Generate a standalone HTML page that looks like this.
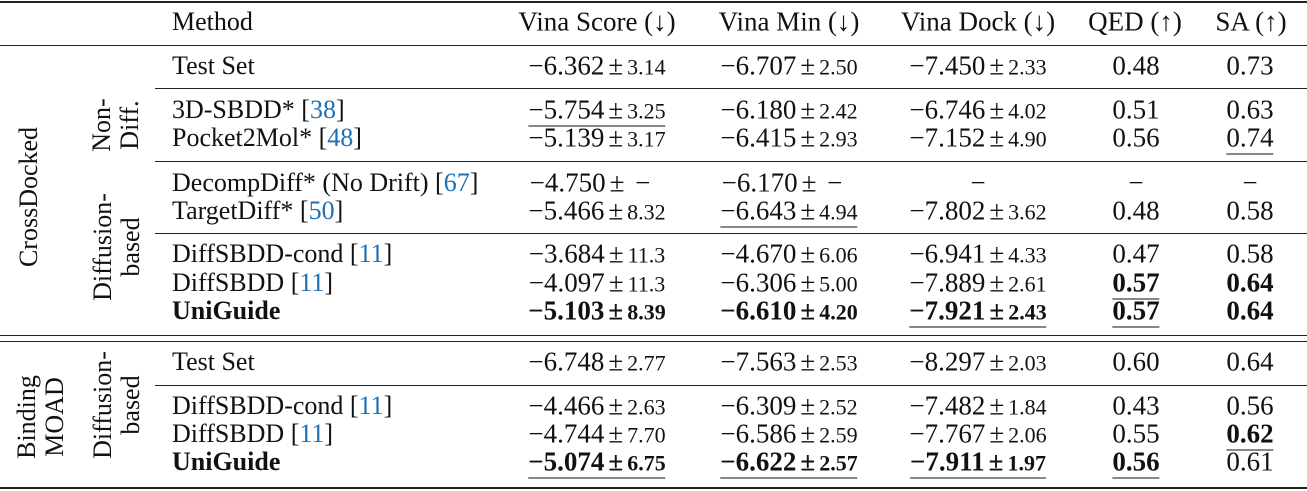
<!DOCTYPE html>
<html><head><meta charset="utf-8"><style>
body{margin:0;width:1307px;height:491px;background:#fff;position:relative;overflow:hidden;font-family:"Liberation Serif",serif;color:#111;font-size:26px}
.r{position:absolute;height:0;border-top:1px solid #222}
.t{position:absolute;white-space:nowrap;transform:translate(-50%,-50%);line-height:1;font-size:27px}
.h{position:absolute;white-space:nowrap;transform:translate(-50%,-50%);line-height:1;font-size:27px}
.l{position:absolute;white-space:nowrap;transform:translateY(-50%);line-height:1;left:172px}
s{text-decoration:none;font-size:22px}
i{font-style:normal;margin:0 4px}
.u{border-bottom:1.3px solid #111;padding-bottom:1px}
.c{color:#1f6fb5}
.v{position:absolute;white-space:nowrap;line-height:28px;text-align:center;transform:translate(-50%,-50%) rotate(-90deg)}
</style></head><body>
<div class="r" style="left:0;right:0;top:1px;border-top-width:2px"></div>
<div class="r" style="left:0;right:0;top:45px"></div>
<div class="r" style="left:155px;right:0;top:88px"></div>
<div class="r" style="left:155px;right:0;top:161px"></div>
<div class="r" style="left:155px;right:0;top:233px"></div>
<div class="r" style="left:0;right:0;top:335px"></div>
<div class="r" style="left:0;right:0;top:341px"></div>
<div class="r" style="left:155px;right:0;top:385px"></div>
<div class="r" style="left:0;right:0;top:487px;border-top-width:2px"></div>

<div class="v" style="left:29px;top:197px">CrossDocked</div>
<div class="v" style="left:116px;top:125px">Non-<br>Diff.</div>
<div class="v" style="left:117px;top:247px">Diffusion-<br>based</div>
<div class="v" style="left:41px;top:417px">Binding<br>MOAD</div>
<div class="v" style="left:117px;top:405px">Diffusion-<br>based</div>

<div class="l" style="top:22px">Method</div>
<div class="h" style="left:597px;top:22px">Vina Score (↓)</div>
<div class="h" style="left:789px;top:22px">Vina Min (↓)</div>
<div class="h" style="left:978px;top:22px">Vina Dock (↓)</div>
<div class="h" style="left:1135px;top:22px">QED (↑)</div>
<div class="h" style="left:1251px;top:22px">SA (↑)</div>

<div class="l" style="top:66px">Test Set</div>
<div class="t" style="left:597px;top:66px">−6.362<i>±</i><s>3.14</s></div>
<div class="t" style="left:789px;top:66px">−6.707<i>±</i><s>2.50</s></div>
<div class="t" style="left:978px;top:66px">−7.450<i>±</i><s>2.33</s></div>
<div class="t" style="left:1136px;top:66px">0.48</div>
<div class="t" style="left:1250px;top:66px">0.73</div>

<div class="l" style="top:110px">3D-SBDD* [<span class="c">38</span>]</div>
<div class="t" style="left:597px;top:110px"><span class="u">−5.754<i>±</i><s>3.25</s></span></div>
<div class="t" style="left:789px;top:110px">−6.180<i>±</i><s>2.42</s></div>
<div class="t" style="left:978px;top:110px">−6.746<i>±</i><s>4.02</s></div>
<div class="t" style="left:1136px;top:110px">0.51</div>
<div class="t" style="left:1250px;top:110px">0.63</div>

<div class="l" style="top:138px">Pocket2Mol* [<span class="c">48</span>]</div>
<div class="t" style="left:597px;top:138px">−5.139<i>±</i><s>3.17</s></div>
<div class="t" style="left:789px;top:138px">−6.415<i>±</i><s>2.93</s></div>
<div class="t" style="left:978px;top:138px">−7.152<i>±</i><s>4.90</s></div>
<div class="t" style="left:1136px;top:138px">0.56</div>
<div class="t" style="left:1250px;top:138px"><span class="u">0.74</span></div>

<div class="l" style="top:183px">DecompDiff* (No Drift) [<span class="c">67</span>]</div>
<div class="t" style="left:590px;top:183px">−4.750<i>±</i>&nbsp;−</div>
<div class="t" style="left:782px;top:183px">−6.170<i>±</i>&nbsp;−</div>
<div class="t" style="left:978px;top:183px">−</div>
<div class="t" style="left:1136px;top:183px">−</div>
<div class="t" style="left:1250px;top:183px">−</div>

<div class="l" style="top:211px">TargetDiff* [<span class="c">50</span>]</div>
<div class="t" style="left:597px;top:211px">−5.466<i>±</i><s>8.32</s></div>
<div class="t" style="left:789px;top:211px"><span class="u">−6.643<i>±</i><s>4.94</s></span></div>
<div class="t" style="left:978px;top:211px">−7.802<i>±</i><s>3.62</s></div>
<div class="t" style="left:1136px;top:211px">0.48</div>
<div class="t" style="left:1250px;top:211px">0.58</div>

<div class="l" style="top:254px">DiffSBDD-cond [<span class="c">11</span>]</div>
<div class="t" style="left:597px;top:254px">−3.684<i>±</i><s>11.3</s></div>
<div class="t" style="left:789px;top:254px">−4.670<i>±</i><s>6.06</s></div>
<div class="t" style="left:978px;top:254px">−6.941<i>±</i><s>4.33</s></div>
<div class="t" style="left:1136px;top:254px">0.47</div>
<div class="t" style="left:1250px;top:254px">0.58</div>

<div class="l" style="top:283px">DiffSBDD [<span class="c">11</span>]</div>
<div class="t" style="left:597px;top:283px">−4.097<i>±</i><s>11.3</s></div>
<div class="t" style="left:789px;top:283px">−6.306<i>±</i><s>5.00</s></div>
<div class="t" style="left:978px;top:283px">−7.889<i>±</i><s>2.61</s></div>
<div class="t" style="left:1136px;top:283px"><b class="u">0.57</b></div>
<div class="t" style="left:1250px;top:283px"><b>0.64</b></div>

<div class="l" style="top:311px"><b>UniGuide</b></div>
<div class="t" style="left:597px;top:311px"><b>−5.103<i>±</i><s>8.39</s></b></div>
<div class="t" style="left:789px;top:311px"><b>−6.610<i>±</i><s>4.20</s></b></div>
<div class="t" style="left:978px;top:311px"><b class="u">−7.921<i>±</i><s>2.43</s></b></div>
<div class="t" style="left:1136px;top:311px"><b class="u">0.57</b></div>
<div class="t" style="left:1250px;top:311px"><b>0.64</b></div>

<div class="l" style="top:362px">Test Set</div>
<div class="t" style="left:597px;top:362px">−6.748<i>±</i><s>2.77</s></div>
<div class="t" style="left:789px;top:362px">−7.563<i>±</i><s>2.53</s></div>
<div class="t" style="left:978px;top:362px">−8.297<i>±</i><s>2.03</s></div>
<div class="t" style="left:1136px;top:362px">0.60</div>
<div class="t" style="left:1250px;top:362px">0.64</div>

<div class="l" style="top:406px">DiffSBDD-cond [<span class="c">11</span>]</div>
<div class="t" style="left:597px;top:406px">−4.466<i>±</i><s>2.63</s></div>
<div class="t" style="left:789px;top:406px">−6.309<i>±</i><s>2.52</s></div>
<div class="t" style="left:978px;top:406px">−7.482<i>±</i><s>1.84</s></div>
<div class="t" style="left:1136px;top:406px">0.43</div>
<div class="t" style="left:1250px;top:406px">0.56</div>

<div class="l" style="top:434px">DiffSBDD [<span class="c">11</span>]</div>
<div class="t" style="left:597px;top:434px">−4.744<i>±</i><s>7.70</s></div>
<div class="t" style="left:789px;top:434px">−6.586<i>±</i><s>2.59</s></div>
<div class="t" style="left:978px;top:434px">−7.767<i>±</i><s>2.06</s></div>
<div class="t" style="left:1136px;top:434px">0.55</div>
<div class="t" style="left:1250px;top:434px"><b class="u">0.62</b></div>

<div class="l" style="top:462px"><b>UniGuide</b></div>
<div class="t" style="left:597px;top:462px"><b class="u">−5.074<i>±</i><s>6.75</s></b></div>
<div class="t" style="left:789px;top:462px"><b class="u">−6.622<i>±</i><s>2.57</s></b></div>
<div class="t" style="left:978px;top:462px"><b class="u">−7.911<i>±</i><s>1.97</s></b></div>
<div class="t" style="left:1136px;top:462px"><b class="u">0.56</b></div>
<div class="t" style="left:1250px;top:462px">0.61</div>
</body></html>
